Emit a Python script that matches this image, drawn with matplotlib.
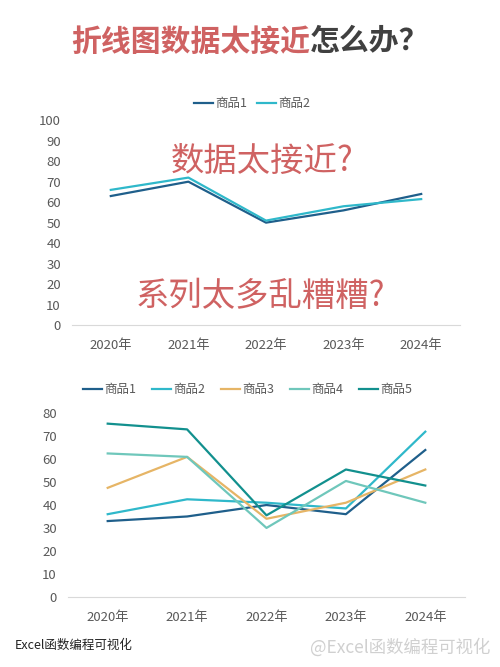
import matplotlib.pyplot as plt

plt.rcParams['font.family'] = ['Noto Sans CJK SC', 'DejaVu Sans']

# data
years = ["2020年", "2021年", "2022年", "2023年", "2024年"]
top_names = ["商品1", "商品2"]
top_p1 = [63, 70, 50, 56, 64]
top_p2 = [66, 72, 51, 58, 61.5]

names = ["商品1", "商品2", "商品3", "商品4", "商品5"]
p1 = [33, 35, 40, 36, 64]
p2 = [36, 42.5, 41, 38.5, 72]
p3 = [47.5, 61, 34, 41, 55.5]
p4 = [62.5, 61, 30, 50.5, 41]
p5 = [75.5, 73, 35.5, 55.5, 48.5]

colors = ["#1f5f8b", "#2fb8ca", "#e6b566", "#6fc7bb", "#12908e"]
tick_color = "#595959"
red = "#cf6262"

fig = plt.figure(figsize=(5, 6.67), dpi=100)

# title
fig.text(0.62, 0.938, "折线图数据太接近", color=red, fontsize=21.5, fontweight='bold',
         ha='right', va='center')
fig.text(0.62, 0.938, "怎么办？", color="#404040", fontsize=21.5, fontweight='bold',
         ha='left', va='center')


def style_axes(ax, ymax, step):
    ax.set_xlim(-0.5, 4.5)
    ax.set_ylim(0, ymax)
    ax.set_yticks(range(0, ymax + 1, step))
    ax.set_xticks(range(len(years)))
    ax.set_xticklabels(years)
    for s in ['top', 'right', 'left']:
        ax.spines[s].set_visible(False)
    ax.spines['bottom'].set_color("#d9d9d9")
    ax.tick_params(length=0, colors=tick_color, labelsize=9.5)
    ax.tick_params(axis='x', pad=10)
    ax.tick_params(axis='y', pad=8)


# top chart
ax1 = fig.add_axes([0.144, 0.5127, 0.776, 0.307])
x = range(len(years))
ax1.plot(x, top_p1, color=colors[0], lw=1.6, label=top_names[0])
ax1.plot(x, top_p2, color=colors[1], lw=1.6, label=top_names[1])
style_axes(ax1, 100, 10)
ax1.legend(loc='lower center', bbox_to_anchor=(0.465, 1.02), ncol=2, frameon=False,
           fontsize=9, labelcolor=tick_color, handlelength=1.5, handletextpad=0.2,
           columnspacing=0.8, borderaxespad=0.1)
ax1.text(0.49, 0.80, "数据太接近?", transform=ax1.transAxes, color=red,
         fontsize=24, ha='center', va='center')
ax1.text(0.485, 0.14, "系列太多乱糟糟?", transform=ax1.transAxes, color=red,
         fontsize=24, ha='center', va='center')

# bottom chart
ax2 = fig.add_axes([0.136, 0.1054, 0.794, 0.2749])
for vals, name, c in zip([p1, p2, p3, p4, p5], names, colors):
    ax2.plot(x, vals, color=c, lw=1.6, label=name)
style_axes(ax2, 80, 10)
ax2.legend(loc='lower center', bbox_to_anchor=(0.453, 1.06), ncol=5, frameon=False,
           fontsize=9, labelcolor=tick_color, handlelength=1.5, handletextpad=0.2,
           columnspacing=1.25, borderaxespad=0.1)

# footer
fig.text(0.03, 0.033, "Excel函数编程可视化", color="#222222", fontsize=9,
         ha='left', va='center')
fig.text(0.98, 0.03, "@Excel函数编程可视化", color="#d0d0d0", fontsize=12.5,
         ha='right', va='center')

fig.savefig("out.png", dpi=100)
